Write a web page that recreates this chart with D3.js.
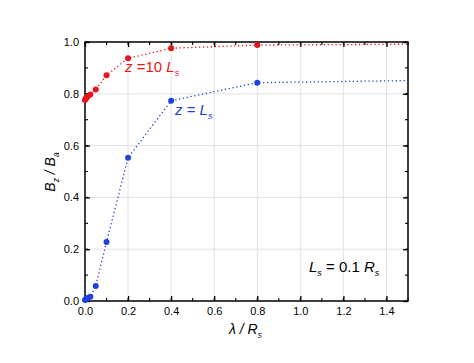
<!DOCTYPE html>
<html><head><meta charset="utf-8">
<script src="https://cdn.jsdelivr.net/npm/d3@7"></script>
<style>body{margin:0;background:#fff}svg{display:block}text{font-family:"Liberation Sans",Arial,sans-serif}</style>
</head><body>
<svg id="c" width="474" height="363"></svg>
<script>
const lambdaRed = [0.0, 0.004, 0.008, 0.0125, 0.025, 0.05, 0.1, 0.2, 0.4, 0.8, 1.6];
const bRed      = [0.776, 0.782, 0.786, 0.790, 0.797, 0.817, 0.872, 0.937, 0.976, 0.988, 0.992];
const lambdaBlue = [0.0, 0.004, 0.008, 0.0125, 0.025, 0.05, 0.1, 0.2, 0.4, 0.8, 1.6];
const bBlue      = [0.004, 0.007, 0.010, 0.012, 0.016, 0.058, 0.228, 0.553, 0.773, 0.843, 0.852];
const xTicks = [0.0, 0.2, 0.4, 0.6, 0.8, 1.0, 1.2, 1.4];
const yTicks = [0.0, 0.2, 0.4, 0.6, 0.8, 1.0];

(function () {
const svg = d3.select("#c");
const L = 85, R = 408, T = 42, B = 301;
const x = d3.scaleLinear().domain([0, 1.5]).range([L, R]);
const y = d3.scaleLinear().domain([0, 1]).range([B, T]);

// grid
svg.append("g").selectAll("line").data(xTicks.filter(d => d > 0)).join("line")
  .attr("x1", d => x(d)).attr("x2", d => x(d)).attr("y1", T).attr("y2", B)
  .attr("stroke", "#e2e2e2").attr("stroke-width", 1);
svg.append("g").selectAll("line").data(yTicks.filter(d => d > 0 && d < 1)).join("line")
  .attr("y1", d => y(d)).attr("y2", d => y(d)).attr("x1", L).attr("x2", R)
  .attr("stroke", "#e2e2e2").attr("stroke-width", 1);

// axes
const fmt = d3.format(".1f");
const minorX = d3.range(0, 1.51, 0.1);
const minorY = d3.range(0, 1.01, 0.1);
const gB = svg.append("g").attr("transform", `translate(0,${B})`)
  .call(d3.axisBottom(x).tickValues(xTicks).tickFormat(fmt).tickSizeInner(-5).tickSizeOuter(0).tickPadding(6));
const gL = svg.append("g").attr("transform", `translate(${L},0)`)
  .call(d3.axisLeft(y).tickValues(yTicks).tickFormat(fmt).tickSizeInner(-5).tickSizeOuter(0).tickPadding(6));
const gT = svg.append("g").attr("transform", `translate(0,${T})`)
  .call(d3.axisTop(x).tickValues(xTicks).tickFormat("").tickSizeInner(-5).tickSizeOuter(0));
const gR = svg.append("g").attr("transform", `translate(${R},0)`)
  .call(d3.axisRight(y).tickValues(yTicks).tickFormat("").tickSizeInner(-5).tickSizeOuter(0));
[gB, gL, gT, gR].forEach(g => {
  g.select(".domain").remove();
  g.selectAll("line").attr("stroke", "#000").attr("stroke-width", 1.3);
  g.selectAll("text").attr("font-size", 11).attr("fill", "#000").attr("font-family", "Liberation Sans, Arial, sans-serif");
});
// minor ticks
const mg = svg.append("g").attr("stroke", "#000").attr("stroke-width", 1.1);
minorX.forEach(v => {
  mg.append("line").attr("x1", x(v)).attr("x2", x(v)).attr("y1", B).attr("y2", B - 3);
  mg.append("line").attr("x1", x(v)).attr("x2", x(v)).attr("y1", T).attr("y2", T + 3);
});
minorY.forEach(v => {
  mg.append("line").attr("y1", y(v)).attr("y2", y(v)).attr("x1", L).attr("x2", L + 3);
  mg.append("line").attr("y1", y(v)).attr("y2", y(v)).attr("x1", R).attr("x2", R - 3);
});
svg.append("rect").attr("x", L).attr("y", T).attr("width", R - L).attr("height", B - T)
  .attr("fill", "none").attr("stroke", "#000").attr("stroke-width", 1.5);

// clip
svg.append("clipPath").attr("id", "clip").append("rect")
  .attr("x", L - 6).attr("y", T - 6).attr("width", R - L + 6).attr("height", B - T + 12);
svg.append("clipPath").attr("id", "clipL").append("rect")
  .attr("x", L).attr("y", T - 6).attr("width", R - L).attr("height", B - T + 12);

const line = d3.line().x(d => x(d[0])).y(d => y(d[1]));
const series = [
  {xs: lambdaRed, ys: bRed, color: "#e8161b"},
  {xs: lambdaBlue, ys: bBlue, color: "#2040e0"}
];
series.forEach(s => {
  const pts = s.xs.map((v, i) => [v, s.ys[i]]);
  svg.append("path").datum(pts).attr("d", line).attr("fill", "none")
    .attr("stroke", s.color).attr("stroke-width", 1.3).attr("stroke-dasharray", "1.3,2.6")
    .attr("clip-path", "url(#clipL)");
  svg.append("g").attr("clip-path", "url(#clip)").selectAll("circle")
    .data(pts.filter(p => p[0] <= 1.5)).join("circle")
    .attr("cx", d => x(d[0])).attr("cy", d => y(d[1])).attr("r", 3)
    .attr("fill", s.color);
});

// labels
function lab(xp, yp, color, parts, size) {
  const t = svg.append("text").attr("x", xp).attr("y", yp).attr("fill", color).attr("font-size", size);
  parts.forEach(p => {
    const ts = t.append("tspan").text(p.t);
    if (p.i) ts.attr("font-style", "italic");
    if (p.sub) ts.attr("font-size", size * 0.6).attr("dy", 4);
    if (p.up) ts.attr("dy", -4);
  });
  return t;
}
lab(125, 72, "#e8161b", [{t: "z", i: 1}, {t: " =10 "}, {t: "L", i: 1}, {t: "s", i: 1, sub: 1}], 15);
lab(175, 115, "#2040e0", [{t: "z", i: 1}, {t: " = "}, {t: "L", i: 1}, {t: "s", i: 1, sub: 1}], 15);
lab(309, 272, "#000", [{t: "L", i: 1}, {t: "s", i: 1, sub: 1}, {t: " = 0.1 ", up: 1}, {t: "R", i: 1}, {t: "s", i: 1, sub: 1}], 15);

// axis titles
lab(229, 334, "#000", [{t: "λ / ", i: 1}, {t: "R", i: 1}, {t: "s", i: 1, sub: 1}], 14);
const yt = svg.append("text").attr("transform", "translate(55,172) rotate(-90)")
  .attr("text-anchor", "middle").attr("font-size", 14).attr("fill", "#000");
yt.append("tspan").text("B").attr("font-style", "italic");
yt.append("tspan").text("z").attr("font-style", "italic").attr("font-size", 8.5).attr("dy", 4);
yt.append("tspan").text(" / ").attr("font-style", "italic").attr("dy", -4);
yt.append("tspan").text("B").attr("font-style", "italic");
yt.append("tspan").text("a").attr("font-style", "italic").attr("font-size", 8.5).attr("dy", 4);
})();
</script>
</body></html>
